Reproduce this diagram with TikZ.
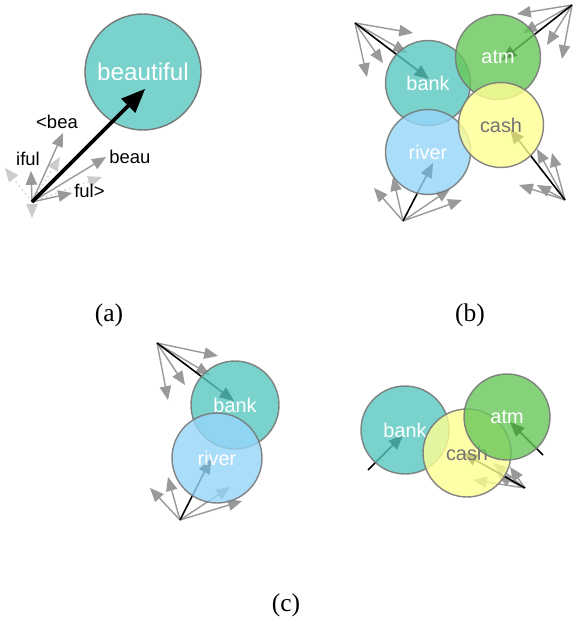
\documentclass[tikz,border=0pt]{standalone}
\usepackage{fontspec}
\setmainfont{Liberation Serif}
\setsansfont{Liberation Sans}
\usetikzlibrary{arrows}
\definecolor{bankcol}{RGB}{87,199,190}
\definecolor{atmcol}{RGB}{104,199,89}
\definecolor{cashcol}{RGB}{255,255,146}
\definecolor{rivercol}{RGB}{149,213,249}
\definecolor{rimcol}{RGB}{120,120,120}
\tikzset{
  word/.style={circle, draw=rimcol, line width=0.8pt, minimum size=1.7cm, inner sep=0pt,
    fill opacity=0.8, draw opacity=0.9, text opacity=1, text=white,
    font=\sffamily\fontsize{11.3}{12}\selectfont},
  sub/.style={every edge/.style={draw, ->, >=triangle 45, color=gray!80, line width=0.8pt}},
  ghost/.style={every edge/.style={draw, ->, >=triangle 45, color=gray!40, dotted, line width=0.8pt}},
  main/.style={every edge/.style={draw, ->, >=triangle 45, color=black, line width=0.9pt}},
  subtext/.style={font=\sffamily\fontsize{10.5}{12}\selectfont, inner sep=0pt},
  panel/.style={font=\fontsize{14.5}{16}\selectfont}
}
\begin{document}
\begin{tikzpicture}[x=0.02cm, y=-0.02cm]
  \useasboundingbox (0,0) rectangle (578,621);

  % (a)
  \node[circle, draw=rimcol, fill=bankcol!80, line width=0.8pt, minimum size=2.32cm,
    text=white, font=\sffamily\fontsize{13.8}{15}\selectfont] (beautiful) at (143,72) {beautiful};
  \coordinate (oa) at (32,202);
  \coordinate (bea) at (63,133);
  \coordinate (beau) at (106,157);
  \coordinate (ful) at (72,193);
  \coordinate (iful) at (31,171);
  \coordinate (g1) at (5,168);
  \coordinate (g2) at (60,157);
  \coordinate (g3) at (102,177);
  \coordinate (g4) at (32,218);
  \path[ghost]
    (oa) edge (g1) edge (g2) edge (g3) edge (g4);
  \path[sub]
    (oa) edge (bea) edge (beau) edge (ful) edge (iful);
  \draw[->, >=triangle 45, line width=2.2pt] (oa) -- (145,89);
  \node[subtext] (lbea) at (57,122) {<bea};
  \node[subtext, right] (lbeau) at (109,157) {beau};
  \node[subtext, right] (lful) at (74,191) {ful>};
  \node[subtext] (liful) at (28,159) {iful};
  \node[panel] (pa) at (109,315) {(a)};

  % (b)
  \coordinate (ob1) at (355,23);
  \coordinate (ob2) at (572,5);
  \coordinate (ob3) at (565,200);
  \coordinate (ob4) at (403,221);
  \path[sub]
    (ob1) edge (413,33) edge (407,53) edge (383,63) edge (367,77)
    (ob2) edge (517,14) edge (523,33) edge (547,45) edge (562,59)
    (ob3) edge (519,185) edge (537,185) edge (537,149) edge (552,153)
    (ob4) edge (374,188) edge (393,177) edge (450,189) edge (462,200);
  \path[main]
    (ob1) edge (429,79)
    (ob2) edge (502,60)
    (ob3) edge (510,129)
    (ob4) edge (433,163);
  \node[word, fill=bankcol] (bankB) at (428,83) {bank};
  \node[word, fill=atmcol] (atmB) at (498,57) {atm};
  \node[word, fill=rivercol] (riverB) at (428,152) {river};
  \node[word, fill=cashcol, text=gray!90!black] (cashB) at (501,125) {cash};
  \node[panel] (pb) at (470,315) {(b)};

  % (c)
  \coordinate (oc1) at (157,343);
  \coordinate (oc2) at (180,520);
  \coordinate (oc3) at (525,488);
  \path[sub]
    (oc1) edge (218,356) edge (210,375) edge (185,385) edge (168,400)
    (oc2) edge (150,488) edge (168,477) edge (230,487) edge (242,501)
    (oc3) edge (473,480) edge (493,463) edge (510,467) edge (497,475);
  \path[main]
    (oc1) edge (234,401)
    (oc2) edge (211,459)
    (oc3) edge (463,453)
    (368,470) edge (403,435)
    (543,455) edge (510,422);
  \node[word, fill=bankcol, minimum size=1.76cm] (bankC) at (235,405) {bank};
  \node[word, fill=rivercol, minimum size=1.8cm] (riverC) at (217,458) {river};
  \node[word, fill=bankcol, minimum size=1.76cm] (bankD) at (405,430) {bank};
  \node[word, fill=cashcol, text=gray!90!black, minimum size=1.76cm] (cashD) at (467,453) {cash};
  \node[word, fill=atmcol, minimum size=1.72cm] (atmD) at (507,417) {atm};
  \node[panel] (pc) at (286,605) {(c)};
\end{tikzpicture}
\end{document}
